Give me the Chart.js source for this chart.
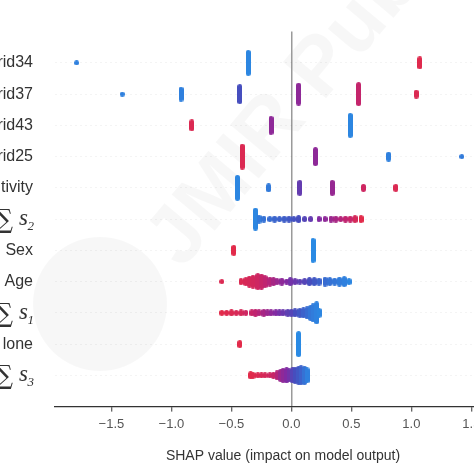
<!DOCTYPE html>
<html>
<head>
<meta charset="utf-8">
<script src="https://cdn.jsdelivr.net/npm/chart.js@4.4.1/dist/chart.umd.min.js"></script>
<style>
html, body { margin: 0; padding: 0; background: #fff; overflow: hidden; }
#marco { width: 474px; height: 474px; overflow: hidden; position: relative; }
#grafico { position: absolute; left: 0; top: 0; }
</style>
</head>
<body>
<div id="marco"><canvas id="grafico" width="520" height="474"></canvas></div>
<script>
// Variables, de arriba hacia abajo (el borde izquierdo de la imagen corta los nombres)
var variables = ['rid34', 'rid37', 'rid43', 'rid25', 'tivity', '∑2', 'Sex', 'Age', '∑1', 'lone', '∑3'];

// Marcas del eje X
var ticksX = [-1.5, -1.0, -0.5, 0.0, 0.5, 1.0, 1.5];

// Valores SHAP de cada grupo de puntos, por variable
var valoresShap = [
    [-1.79, -0.36, 1.07],
    [-1.41, -0.92, -0.43, 0.06, 0.56, 1.04],
    [-0.83, -0.17, 0.49],
    [-0.41, 0.20, 0.81, 1.42],
    [-0.45, -0.19, 0.07, 0.34, 0.60, 0.87],
    [-0.30, -0.27, -0.23, -0.18, -0.14, -0.10, -0.06, -0.02, 0.02, 0.06, 0.11, 0.16, 0.23, 0.28, 0.33, 0.37, 0.41, 0.45, 0.49, 0.53, 0.58],
    [-0.48, 0.18],
    [-0.58, -0.42, -0.38, -0.35, -0.32, -0.28, -0.25, -0.22, -0.18, -0.15, -0.12, -0.08, -0.04, -0.01, 0.03, 0.07, 0.11, 0.15, 0.19, 0.23, 0.28, 0.32, 0.36, 0.40, 0.44, 0.48],
    [-0.58, -0.54, -0.50, -0.46, -0.42, -0.38, -0.33, -0.30, -0.27, -0.23, -0.20, -0.17, -0.13, -0.10, -0.07, -0.03, 0.00, 0.03, 0.07, 0.10, 0.13, 0.16, 0.18, 0.21, 0.23],
    [-0.43, 0.06],
    [-0.34, -0.32, -0.28, -0.25, -0.22, -0.18, -0.15, -0.12, -0.09, -0.07, -0.04, -0.02, 0.01, 0.03, 0.06, 0.08, 0.11, 0.13]
];

// Cantidad de muestras apiladas en cada grupo
var cantidades = [
    [1, 22, 9],
    [1, 11, 16, 19, 20, 5],
    [8, 15, 21],
    [22, 15, 6, 1],
    [22, 5, 12, 12, 4, 4],
    [19, 5, 3, 2, 3, 2, 3, 3, 2, 4, 2, 2, 2, 2, 3, 3, 2, 3, 3, 4, 4],
    [7, 21],
    [1, 3, 5, 8, 10, 13, 12, 9, 6, 5, 3, 4, 2, 5, 3, 2, 3, 5, 5, 4, 6, 5, 4, 6, 7, 3],
    [2, 2, 3, 2, 3, 2, 3, 4, 3, 4, 3, 3, 3, 3, 3, 4, 4, 5, 6, 7, 9, 12, 15, 19, 6],
    [4, 22],
    [4, 3, 2, 2, 2, 2, 3, 6, 9, 11, 12, 10, 12, 13, 15, 16, 15, 12]
];

// Valor de la variable (0 = bajo, 1 = alto) de cada grupo
var valorVariable = [
    [0.05, 0.02, 0.98],
    [0.05, 0.05, 0.30, 0.55, 0.78, 0.95],
    [0.95, 0.55, 0.02],
    [0.95, 0.55, 0.05, 0.08],
    [0.02, 0.08, 0.40, 0.58, 0.85, 0.95],
    [0.02, 0.08, 0.12, 0.15, 0.18, 0.20, 0.22, 0.25, 0.28, 0.30, 0.35, 0.40, 0.50, 0.55, 0.60, 0.65, 0.70, 0.75, 0.80, 0.90, 1.00],
    [1.00, 0.00],
    [0.95, 0.95, 0.92, 0.90, 0.88, 0.85, 0.80, 0.75, 0.70, 0.65, 0.60, 0.55, 0.50, 0.45, 0.42, 0.38, 0.35, 0.30, 0.25, 0.20, 0.15, 0.12, 0.10, 0.07, 0.05, 0.02],
    [1.00, 0.97, 0.95, 0.92, 0.90, 0.85, 0.80, 0.75, 0.70, 0.65, 0.60, 0.55, 0.50, 0.45, 0.42, 0.38, 0.35, 0.30, 0.25, 0.20, 0.15, 0.10, 0.07, 0.04, 0.02],
    [1.00, 0.00],
    [1.00, 0.98, 0.95, 0.92, 0.90, 0.85, 0.80, 0.70, 0.60, 0.55, 0.50, 0.45, 0.35, 0.30, 0.25, 0.20, 0.12, 0.05]
];

// Escala de color azul -> morado -> rojo
var paradas = [
    [0.00, [42, 138, 228]],
    [0.30, [70, 78, 190]],
    [0.50, [130, 42, 162]],
    [0.75, [192, 36, 112]],
    [1.00, [226, 42, 74]]
];

function colorPara(f) {
    for (var k = 1; k < paradas.length; k++) {
        if (f <= paradas[k][0]) {
            var a = paradas[k - 1], b = paradas[k];
            var t = (f - a[0]) / (b[0] - a[0]);
            var c = a[1].map(function (v, j) { return Math.round(v + (b[1][j] - v) * t); });
            return 'rgb(' + c.join(',') + ')';
        }
    }
    return 'rgb(' + paradas[paradas.length - 1][1].join(',') + ')';
}

// Cada grupo apilado se dibuja como una barrita vertical redondeada
var cacheFiguras = {};
function figuraGrupo(n, color) {
    var alto = 4 + n;
    var clave = alto + '_' + color;
    if (cacheFiguras[clave]) return cacheFiguras[clave];
    var c = document.createElement('canvas');
    c.width = 5;
    c.height = alto;
    var g = c.getContext('2d');
    g.fillStyle = color;
    g.beginPath();
    g.moveTo(0, 2.5);
    g.arc(2.5, 2.5, 2.5, Math.PI, 0);
    g.lineTo(5, alto - 2.5);
    g.arc(2.5, alto - 2.5, 2.5, 0, Math.PI);
    g.closePath();
    g.fill();
    cacheFiguras[clave] = c;
    return c;
}

// Armar los puntos: la fila 0 va arriba (y = 10)
var puntos = [];
for (var i = 0; i < variables.length; i++) {
    for (var j = 0; j < valoresShap[i].length; j++) {
        puntos.push({ x: valoresShap[i][j], y: 10 - i, n: cantidades[i][j], f: valorVariable[i][j] });
    }
}

// Marca de agua tenue del fondo
var pluginMarcaAgua = {
    id: 'marcaAgua',
    beforeDraw: function (chart) {
        var ctx = chart.ctx;
        ctx.save();
        ctx.fillStyle = '#fff';
        ctx.fillRect(0, 0, chart.width, chart.height);
        ctx.fillStyle = 'rgba(0,0,0,0.03)';
        ctx.beginPath();
        ctx.arc(100, 304, 67, 0, Math.PI * 2);
        ctx.fill();
        ctx.translate(182, 270);
        ctx.rotate(-50 * Math.PI / 180);
        ctx.font = 'bold 82px "Liberation Sans"';
        ctx.fillText('JMIR Publications', 0, 0);
        ctx.restore();
    }
};

// Etiquetas con sumatoria (se dibujan aparte por la mezcla de fuentes)
var pluginSumatorias = {
    id: 'sumatorias',
    afterDraw: function (chart) {
        var ctx = chart.ctx;
        var escalaY = chart.scales.y;
        ctx.save();
        ctx.fillStyle = '#333';
        ctx.textAlign = 'right';
        variables.forEach(function (nombre, i) {
            if (nombre.charAt(0) !== '∑') return;
            var y = escalaY.getPixelForValue(10 - i);
            ctx.font = 'italic 13px "Liberation Serif"';
            ctx.fillText(nombre.charAt(1), 34, y + 11);
            ctx.font = 'italic 23px "Liberation Serif"';
            ctx.fillText('s', 28, y + 6);
            ctx.font = '26px "DejaVu Serif"';
            ctx.fillText('∑', 13, y + 9);
        });
        ctx.restore();
    }
};

var ctx = document.getElementById('grafico').getContext('2d');
var grafico = new Chart(ctx, {
    type: 'scatter',
    data: {
        datasets: [{
            data: puntos,
            pointStyle: function (c) { return figuraGrupo(c.raw.n, colorPara(c.raw.f)); },
            pointRadius: 3,
            pointHoverRadius: 3
        }]
    },
    options: {
        responsive: false,
        animation: false,
        devicePixelRatio: 1,
        layout: { padding: { top: 27, right: 9, bottom: 5, left: 0 } },
        plugins: { legend: { display: false }, tooltip: { enabled: false } },
        scales: {
            x: {
                type: 'linear',
                min: -1.97,
                max: 1.83,
                afterBuildTicks: function (eje) {
                    eje.ticks = ticksX.map(function (v) { return { value: v }; });
                },
                grid: {
                    drawOnChartArea: true,
                    color: function (c) { return c.tick && c.tick.value === 0 ? '#9a9a9a' : 'rgba(0,0,0,0)'; },
                    lineWidth: 1.5,
                    tickColor: '#333',
                    tickLength: 5,
                    tickWidth: 1
                },
                border: { color: '#333', width: 1.2 },
                ticks: {
                    color: '#555',
                    font: { family: '"Liberation Sans"', size: 13 },
                    padding: 5,
                    maxRotation: 0,
                    callback: function (v) {
                        return v < 0 ? '\u2212' + Math.abs(v).toFixed(1) : v.toFixed(1);
                    }
                },
                title: {
                    display: true,
                    text: 'SHAP value (impact on model output)',
                    color: '#333',
                    font: { family: '"Liberation Sans"', size: 14 },
                    padding: { top: 11, bottom: 4 }
                }
            },
            y: {
                type: 'linear',
                min: -1,
                max: 11,
                afterBuildTicks: function (eje) {
                    var t = [];
                    for (var v = 0; v <= 10; v++) t.push({ value: v });
                    eje.ticks = t;
                },
                afterFit: function (eje) { eje.width = 55; },
                grid: { color: 'rgba(0,0,0,0.045)', drawTicks: false, lineWidth: 1 },
                border: { display: false, dash: [2, 3] },
                ticks: {
                    color: '#333',
                    font: { family: '"Liberation Sans"', size: 16 },
                    padding: 22,
                    callback: function (v) {
                        var nombre = variables[10 - v];
                        return nombre.charAt(0) === '∑' ? '' : nombre;
                    }
                }
            }
        }
    },
    plugins: [pluginMarcaAgua, pluginSumatorias]
});
</script>
</body>
</html>
